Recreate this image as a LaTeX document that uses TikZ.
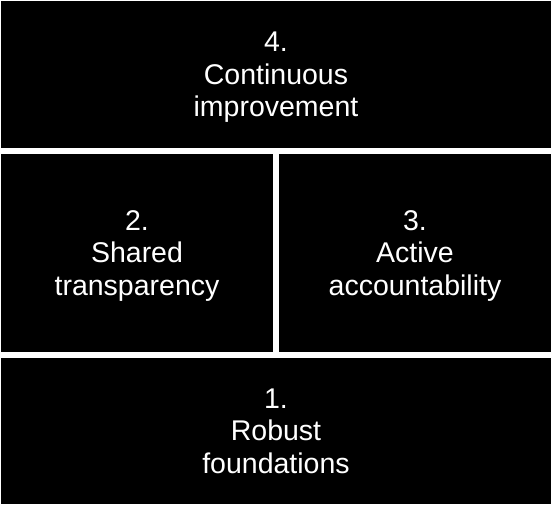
\documentclass[tikz,border=0pt]{standalone}
\usepackage{fontspec}
\setmainfont{Liberation Sans}
\usetikzlibrary{shapes}

\begin{document}
\begin{tikzpicture}[x = 1pt, y = 1pt]
	\tikzstyle{blockStyle} = [shape = rectangle, fill = black, text = white, align = center, inner sep = 0pt, text depth = 0pt, font = \fontsize{28.5}{32.5}\selectfont]
	\tikzstyle{wideStyle} = [blockStyle, minimum width = 550pt]
	\tikzstyle{halfStyle} = [blockStyle, minimum width = 272pt, minimum height = 198pt]
	\useasboundingbox[fill = white] (0, 0) rectangle (551, 504);
	\node[style = wideStyle, minimum height = 147pt] (v4) at (276, 429.5) {4.\\Continuous\\improvement};
	\node[style = halfStyle] (v2) at (137, 251) {2.\\Shared\\transparency};
	\node[style = halfStyle] (v3) at (415, 251) {3.\\Active\\accountability};
	\node[style = wideStyle, minimum height = 146pt] (v1) at (276, 73) {1.\\Robust\\foundations};
\end{tikzpicture}
\end{document}
